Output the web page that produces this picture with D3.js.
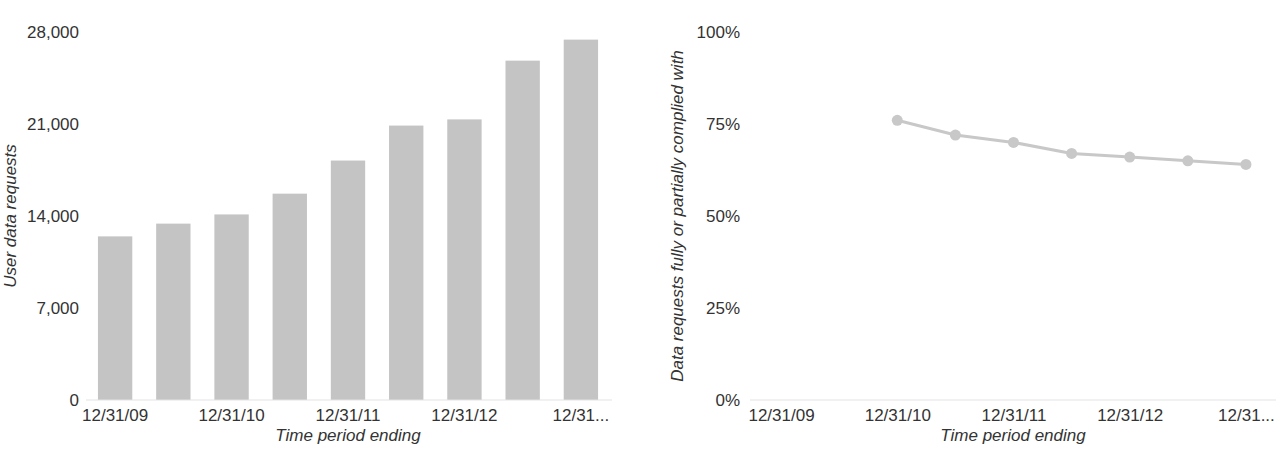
<!DOCTYPE html>
<html lang="en">
<head>
<meta charset="utf-8">
<title>User data requests</title>
<script src="https://cdn.jsdelivr.net/npm/d3@7"></script>
<style>
  body { margin: 0; background: #fff; }
  text { font-family: "Liberation Sans", Arial, sans-serif; fill: #333; }
  .domain { display: none; }
  .tick line { display: none; }
</style>
</head>
<body>
<svg width="1280" height="451"></svg>
<script>
// periods (half years) ending on these dates
var periods = ["12/31/09", "6/30/10", "12/31/10", "6/30/11", "12/31/11",
               "6/30/12", "12/31/12", "6/30/13", "12/31/13"];
// user data requests per period
var requests = [12450, 13420, 14120, 15700, 18220, 20880, 21350, 25820, 27420];
// share of requests fully or partially complied with (no data for the first two)
var complied = [null, null, 0.76, 0.72, 0.70, 0.67, 0.66, 0.65, 0.64];
// tick values
var countTicks = [0, 7000, 14000, 21000, 28000];
var pctTicks = [0, 0.25, 0.5, 0.75, 1];

var svg = d3.select("svg");
var top0 = 32, bottom0 = 400;
var gray = "#c4c4c4";

// shorten long labels like the original ("12/31...")
function shortLabel(s, i) {
  if (i % 2) return "";
  return i === periods.length - 1 ? s.slice(0, 5) + "..." : s;
}

// ---- left: bar chart ----
var x1 = d3.scaleBand()
    .domain(periods)
    .range([86, 610])
    .paddingInner(0.41)
    .paddingOuter(0.205);

var y1 = d3.scaleLinear()
    .domain([0, 28000])
    .range([bottom0, top0]);

var left = svg.append("g");

left.selectAll(".bar")
    .data(requests)
  .enter().append("rect")
    .attr("class", "bar")
    .attr("x", function(d, i) { return x1(periods[i]); })
    .attr("y", function(d) { return y1(d); })
    .attr("width", x1.bandwidth())
    .attr("height", function(d) { return y1(0) - y1(d); })
    .attr("fill", gray);

left.append("line")
    .attr("x1", 86).attr("x2", 612)
    .attr("y1", y1(0)).attr("y2", y1(0))
    .attr("stroke", "#e3e3e3");

left.append("g")
    .attr("transform", "translate(79,0)")
    .call(d3.axisLeft(y1).tickValues(countTicks).tickSize(0).tickPadding(0).tickFormat(d3.format(",")))
    .call(function(g) { g.selectAll("text").style("font-size", "17px").attr("fill", "#333"); });

left.append("g")
    .attr("transform", "translate(0," + bottom0 + ")")
    .call(d3.axisBottom(x1).tickSize(0).tickPadding(9).tickFormat(shortLabel))
    .call(function(g) { g.selectAll("text").style("font-size", "17px").attr("fill", "#333"); });

left.append("text")
    .attr("x", 348).attr("y", 441)
    .attr("text-anchor", "middle")
    .style("font-size", "17px").style("font-style", "italic")
    .text("Time period ending");

left.append("text")
    .attr("transform", "translate(16,216) rotate(-90)")
    .attr("text-anchor", "middle")
    .style("font-size", "17px").style("font-style", "italic")
    .text("User data requests");

// ---- right: line chart ----
var x2 = d3.scalePoint()
    .domain(periods)
    .range([752, 1275])
    .padding(0.5);

var y2 = d3.scaleLinear()
    .domain([0, 1])
    .range([bottom0, top0]);

var right = svg.append("g");

right.append("line")
    .attr("x1", 750).attr("x2", 1276)
    .attr("y1", y2(0)).attr("y2", y2(0))
    .attr("stroke", "#e3e3e3");

var pts = complied.map(function(v, i) { return {p: periods[i], v: v}; })
    .filter(function(d) { return d.v != null; });

right.append("path")
    .datum(pts)
    .attr("fill", "none")
    .attr("stroke", "#c8c8c8")
    .attr("stroke-width", 3)
    .attr("d", d3.line()
      .x(function(d) { return x2(d.p); })
      .y(function(d) { return y2(d.v); }));

right.selectAll(".dot")
    .data(pts)
  .enter().append("circle")
    .attr("class", "dot")
    .attr("cx", function(d) { return x2(d.p); })
    .attr("cy", function(d) { return y2(d.v); })
    .attr("r", 5.5)
    .attr("fill", "#c8c8c8");

right.append("g")
    .attr("transform", "translate(740,0)")
    .call(d3.axisLeft(y2).tickValues(pctTicks).tickSize(0).tickPadding(0).tickFormat(d3.format(".0%")))
    .call(function(g) { g.selectAll("text").style("font-size", "17px").attr("fill", "#333"); });

right.append("g")
    .attr("transform", "translate(0," + bottom0 + ")")
    .call(d3.axisBottom(x2).tickSize(0).tickPadding(9).tickFormat(shortLabel))
    .call(function(g) { g.selectAll("text").style("font-size", "17px").attr("fill", "#333"); });

right.append("text")
    .attr("x", 1013).attr("y", 441)
    .attr("text-anchor", "middle")
    .style("font-size", "17px").style("font-style", "italic")
    .text("Time period ending");

right.append("text")
    .attr("transform", "translate(683,216) rotate(-90)")
    .attr("text-anchor", "middle")
    .style("font-size", "17px").style("font-style", "italic")
    .text("Data requests fully or partially complied with");
</script>
</body>
</html>
